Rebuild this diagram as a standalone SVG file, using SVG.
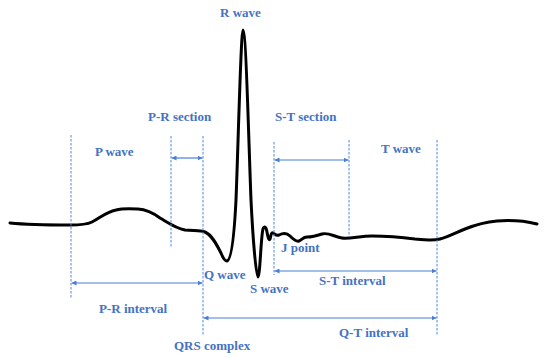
<svg xmlns="http://www.w3.org/2000/svg" width="550" height="358" viewBox="0 0 550 358">
<style>
.lbl{font-family:"Liberation Serif","Times New Roman",serif;font-weight:bold;font-size:13px;fill:#4472c4}
.dash{stroke:#5086da;stroke-width:1;stroke-dasharray:2.5,1.5;fill:none}
.arr{stroke:#4a7ed6;stroke-width:1.2;fill:none;marker-start:url(#ah);marker-end:url(#ah)}
.ecg{stroke:#000;stroke-width:3;fill:none;stroke-linejoin:round;stroke-linecap:round}
</style>
<defs>
<marker id="ah" viewBox="0 0 6 6" refX="6" refY="3" markerWidth="5" markerHeight="5" orient="auto-start-reverse" markerUnits="userSpaceOnUse">
<path d="M0,0 L6,3 L0,6 z" fill="#4a7ed6"/>
</marker>
</defs>
<rect width="550" height="358" fill="#fff"/>
<g id="ecg-trace">
<path class="ecg" d="M10,223 C30,225 55,225 70,225 C80,225 88,224 92,222 C100,218 106,212 116,210 C123,208 130,208.5 138,209 C146,209.5 152,212 160,218 C167,222 175,228 185,230 C193,231 200,230 205,232 C212,235 217,245 221,253 C223,258 225,261 227,261 C231,260 234,240 236,200 C238,150 241,30 243,30 C246,30 249,150 251,200 C253,240 256,277 258,277 C260,277 261,235 263,229 C264,226 266,226 267,232 C268,238 269,241 270,239 C271,236 271,232 273,233 C275,234 276,236 279,235 C283,233 287,233 290,236 C293,239 296,242 299,241 C302,240 303,237 307,237 C312,237 316,236 322,234 C328,232 335,237 342,238 C350,239 360,236 372,236 C385,236 400,237 415,239 C425,240 432,241 440,239 C448,237 455,233 465,229 C475,225 485,222 497,221 C510,220 525,221 537,224"/>
</g>
<g id="connectors">
<line class="dash" x1="71" y1="135" x2="71" y2="298"/>
<line class="dash" x1="171" y1="136" x2="171" y2="247"/>
<line class="dash" x1="203" y1="136" x2="203" y2="335"/>
<line class="dash" x1="274" y1="142" x2="274" y2="275"/>
<line class="dash" x1="349" y1="140" x2="349" y2="237"/>
<line class="dash" x1="437" y1="140" x2="437" y2="335"/>
<line class="arr" x1="171.5" y1="158" x2="202.5" y2="158"/>
<line class="arr" x1="274.5" y1="160" x2="348.5" y2="160"/>
<line class="arr" x1="71.5" y1="283" x2="202.5" y2="283"/>
<line class="arr" x1="274.5" y1="271" x2="436.5" y2="271"/>
<line class="arr" x1="203.5" y1="318" x2="436.5" y2="318"/>
</g>
<g id="label-r-wave"><text class="lbl" x="220" y="17">R wave</text></g>
<g id="label-pr-section"><text class="lbl" x="148" y="121">P-R section</text></g>
<g id="label-p-wave"><text class="lbl" x="95" y="156">P wave</text></g>
<g id="label-st-section"><text class="lbl" x="275" y="121">S-T section</text></g>
<g id="label-t-wave"><text class="lbl" x="381" y="153">T wave</text></g>
<g id="label-q-wave"><text class="lbl" x="204" y="279">Q wave</text></g>
<g id="label-s-wave"><text class="lbl" x="250" y="293">S wave</text></g>
<g id="label-j-point"><text class="lbl" x="281" y="252">J point</text></g>
<g id="label-st-interval"><text class="lbl" x="319" y="285">S-T interval</text></g>
<g id="label-pr-interval"><text class="lbl" x="99" y="313">P-R interval</text></g>
<g id="label-qt-interval"><text class="lbl" x="339" y="337">Q-T interval</text></g>
<g id="label-qrs-complex"><text class="lbl" x="174" y="350">QRS complex</text></g>
</svg>
